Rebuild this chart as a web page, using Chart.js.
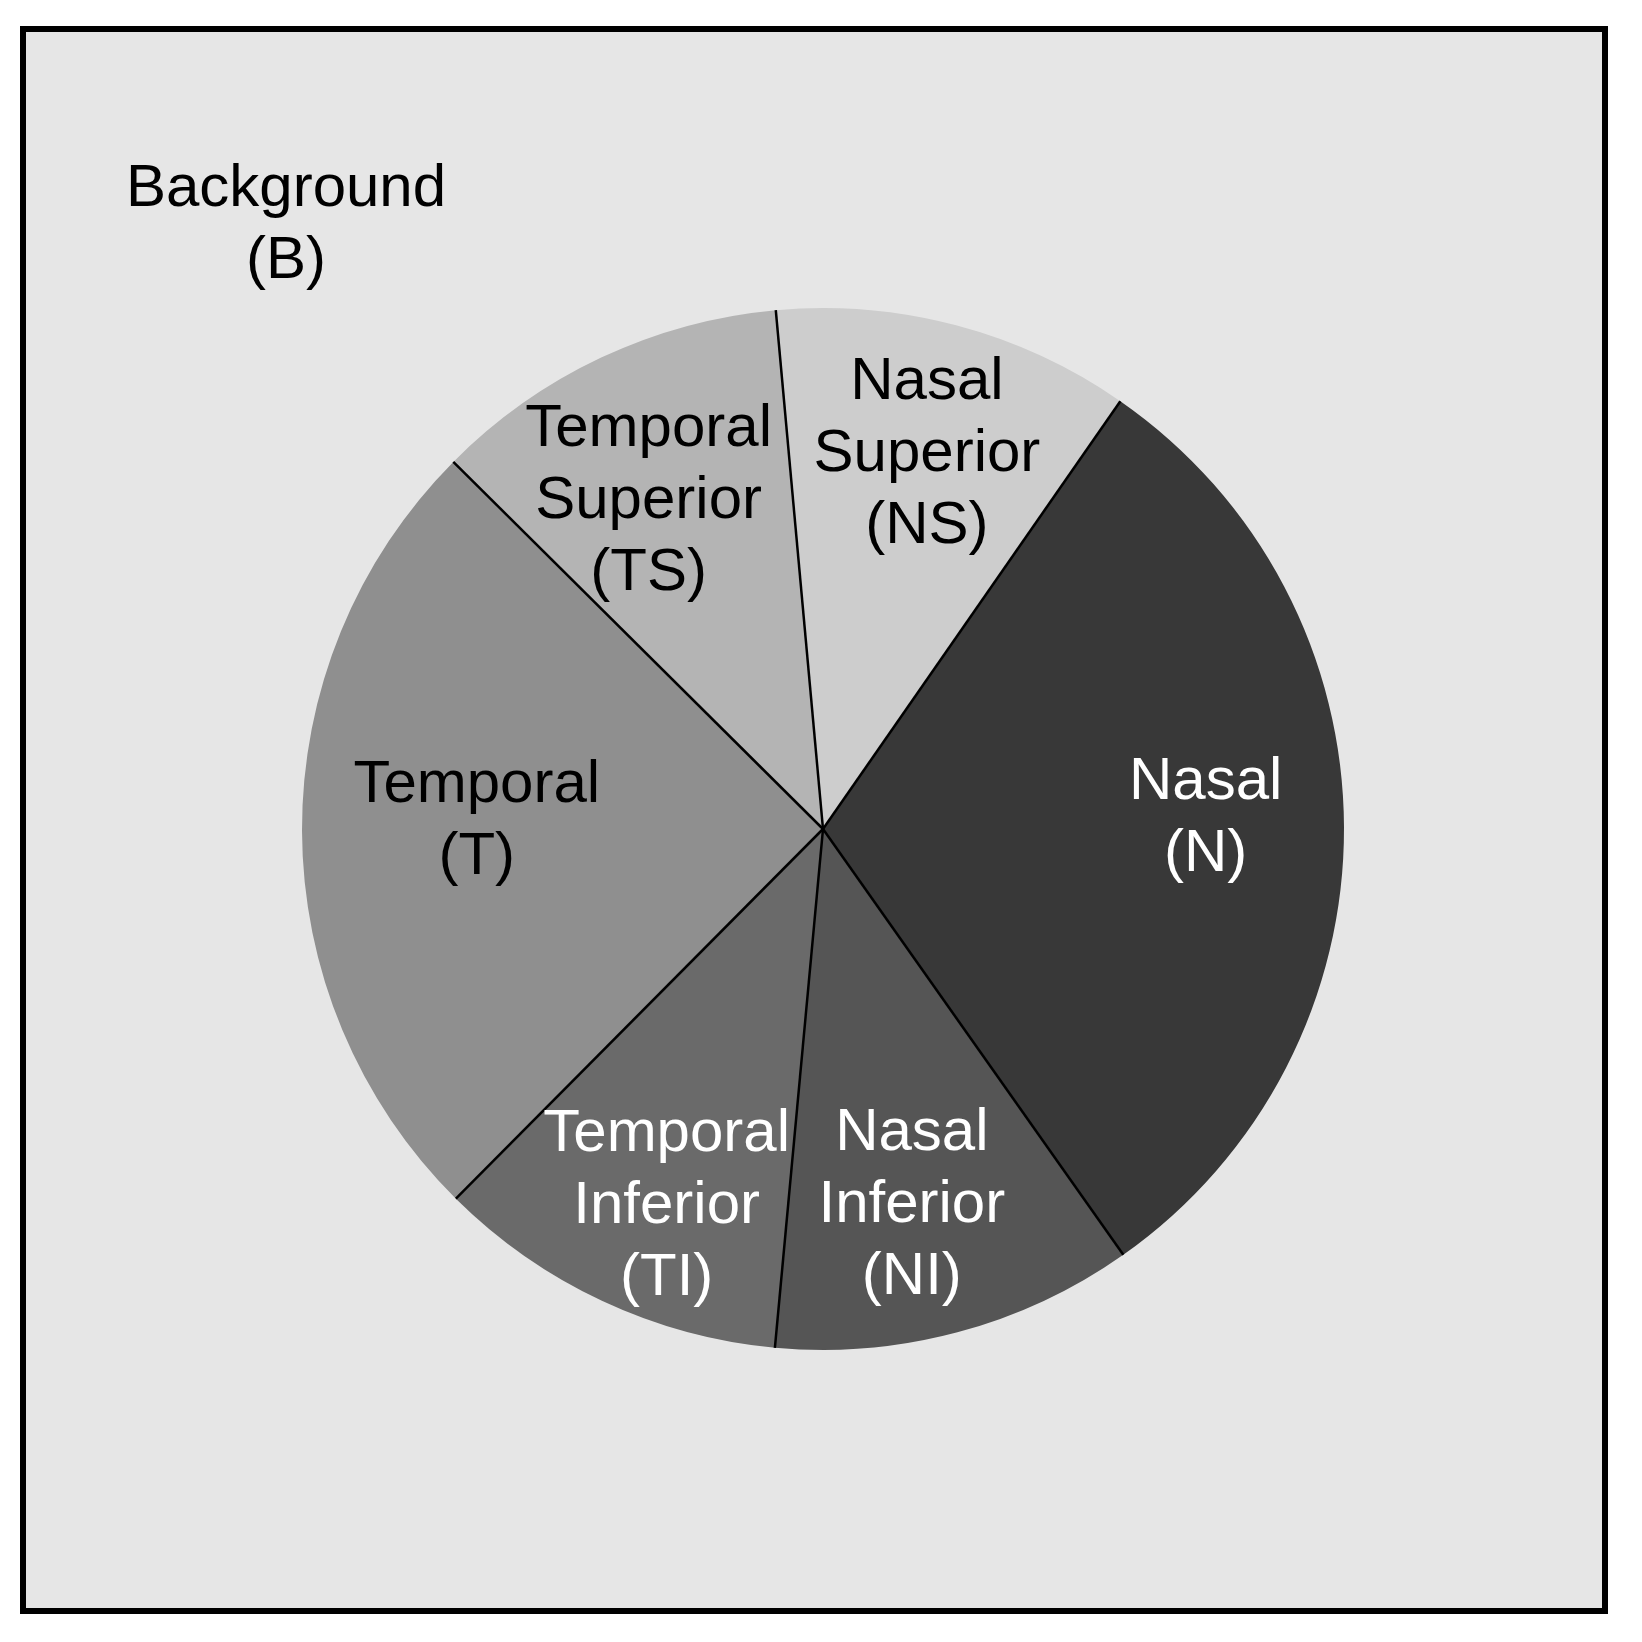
<!DOCTYPE html>
<html>
<head>
<meta charset="utf-8">
<title>Retinal sectors</title>
<script src="https://cdn.jsdelivr.net/npm/chart.js@4/dist/chart.umd.min.js"></script>
<style>
  html, body { margin: 0; padding: 0; background: #ffffff; }
  #canvasSectors { display: block; }
</style>
</head>
<body>
<canvas id="canvasSectors" width="1642" height="1642"></canvas>
<script>
"use strict";

// sectors clockwise, starting just left of 12 o'clock
var sectorNames = ['Nasal Superior (NS)', 'Nasal (N)', 'Nasal Inferior (NI)', 'Temporal Inferior (TI)', 'Temporal (T)', 'Temporal Superior (TS)'];
var sectorLines = [['Nasal', 'Superior', '(NS)'], ['Nasal', '(N)'], ['Nasal', 'Inferior', '(NI)'], ['Temporal', 'Inferior', '(TI)'], ['Temporal', '(T)'], ['Temporal', 'Superior', '(TS)']];
var sectorDegrees = [40, 110, 40.5, 39.5, 90, 40];
var backgroundLines = ['Background', '(B)'];

var sectorColors = ['#cdcdcd', '#383838', '#555555', '#6a6a6a', '#8f8f8f', '#b4b4b4'];
var textColors = ['#000000', '#ffffff', '#ffffff', '#ffffff', '#000000', '#000000'];
// where each label sits: fraction of radius, angle nudge in degrees
var labelSpots = [[0.756, 0.5], [0.735, -2.1], [0.733, 1.5], [0.776, -2.3], [0.665, 2.3], [0.72, -2.5]];

var FONT = '60px "Liberation Sans", Arial, sans-serif';
var LINE_H = 72;

function drawLines(ctx, lines, cx, cy) {
	var n = lines.length;
	for (var i = 0; i < n; i++) {
		var base = cy + (i - (n - 1) / 2) * LINE_H + 21.5;
		ctx.fillText(lines[i], cx, base);
	}
}

var framePlugin = {
	id: 'frame',
	beforeDraw: function (chart) {
		var ctx = chart.ctx;
		ctx.save();
		ctx.fillStyle = '#ffffff';
		ctx.fillRect(0, 0, chart.width, chart.height);
		ctx.fillStyle = '#e6e6e6';
		ctx.fillRect(23, 29, 1582, 1582);
		ctx.strokeStyle = '#000000';
		ctx.lineWidth = 6;
		ctx.strokeRect(23, 29, 1582, 1582);
		ctx.restore();
	}
};

var sectorPlugin = {
	id: 'sectorLabels',
	afterDatasetsDraw: function (chart) {
		var ctx = chart.ctx;
		var arcs = chart.getDatasetMeta(0).data;
		ctx.save();

		// dividing lines between sectors, no outer outline
		ctx.strokeStyle = '#000000';
		ctx.lineWidth = 2.5;
		arcs.forEach(function (arc) {
			var p = arc.getProps(['x', 'y', 'startAngle', 'outerRadius'], true);
			ctx.beginPath();
			ctx.moveTo(p.x, p.y);
			ctx.lineTo(p.x + p.outerRadius * Math.cos(p.startAngle), p.y + p.outerRadius * Math.sin(p.startAngle));
			ctx.stroke();
		});

		ctx.font = FONT;
		ctx.textAlign = 'center';
		ctx.textBaseline = 'alphabetic';
		arcs.forEach(function (arc, i) {
			var p = arc.getProps(['x', 'y', 'startAngle', 'endAngle', 'outerRadius'], true);
			var mid = (p.startAngle + p.endAngle) / 2 + labelSpots[i][1] * Math.PI / 180;
			var r = p.outerRadius * labelSpots[i][0];
			ctx.fillStyle = textColors[i];
			drawLines(ctx, sectorLines[i], p.x + r * Math.cos(mid), p.y + r * Math.sin(mid));
		});

		ctx.fillStyle = '#000000';
		drawLines(ctx, backgroundLines, 286, 220);
		ctx.restore();
	}
};

const context = document.getElementById('canvasSectors');
const sectorChart = new Chart(context, {
	type: 'pie',
	data: {
		labels: sectorNames,
		datasets: [{
			data: sectorDegrees,
			backgroundColor: sectorColors,
			borderWidth: 0,
			radius: 521
		}]
	},
	options: {
		responsive: false,
		devicePixelRatio: 1,
		animation: false,
		rotation: -5.2,
		layout: { padding: { left: 4, right: 0, top: 16, bottom: 0 } },
		plugins: {
			legend: { display: false },
			tooltip: { enabled: false }
		}
	},
	plugins: [framePlugin, sectorPlugin]
});
</script>
</body>
</html>
